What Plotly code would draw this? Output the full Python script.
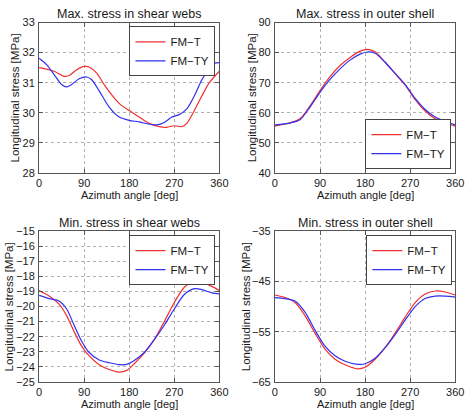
import plotly.graph_objects as go

# ---------------- data ----------------
# Max. stress in shear webs
sw_max_T_x = [0, 30, 50, 60, 75, 90, 100, 115, 130, 150, 165, 180, 200, 220, 240, 255, 270, 285, 295, 310, 325, 340, 360]
sw_max_T_y = [31.50, 31.38, 31.21, 31.24, 31.43, 31.54, 31.52, 31.32, 30.94, 30.50, 30.24, 30.08, 29.86, 29.65, 29.54, 29.52, 29.57, 29.54, 29.65, 30.08, 30.56, 31.00, 31.38]
sw_max_TY_x = [0, 15, 30, 45, 55, 65, 80, 95, 105, 120, 140, 160, 180, 200, 220, 235, 250, 265, 280, 295, 310, 325, 340, 350, 360]
sw_max_TY_y = [31.81, 31.60, 31.27, 30.94, 30.86, 30.94, 31.13, 31.19, 31.10, 30.73, 30.19, 29.86, 29.75, 29.70, 29.62, 29.60, 29.68, 29.86, 29.94, 30.13, 30.56, 31.10, 31.48, 31.65, 31.67]

# Max. stress in outer shell
os_max_x = [0, 30, 50, 70, 90, 110, 130, 150, 170, 185, 200, 220, 240, 260, 280, 300, 320, 340, 360]
os_max_T_y = [55.6, 56.7, 58.0, 62.3, 67.4, 72.0, 75.7, 78.4, 80.5, 81.1, 80.3, 76.8, 73.0, 69.2, 64.4, 60.6, 58.0, 56.7, 55.6]
os_max_TY_y = [56.0, 56.6, 57.7, 61.9, 66.8, 71.1, 74.6, 77.5, 79.5, 80.2, 79.8, 76.8, 73.1, 69.4, 64.8, 61.1, 58.6, 57.2, 56.0]

# Min. stress in shear webs
sw_min_x = [0, 20, 40, 55, 70, 85, 100, 120, 140, 160, 175, 190, 210, 230, 250, 270, 290, 310, 325, 345, 360]
sw_min_T_y = [-18.94, -19.30, -19.84, -20.60, -21.67, -22.63, -23.28, -23.86, -24.18, -24.35, -24.24, -23.80, -23.10, -22.20, -21.00, -19.73, -18.72, -18.33, -18.40, -18.66, -18.94]
sw_min_TY_y = [-19.26, -19.47, -19.63, -20.16, -21.24, -22.30, -23.05, -23.55, -23.73, -23.86, -23.84, -23.58, -23.05, -22.20, -21.24, -20.16, -19.20, -18.81, -18.87, -19.09, -19.15]

# Min. stress in outer shell
os_min_x = [0, 20, 40, 60, 80, 100, 120, 140, 165, 180, 200, 220, 240, 260, 280, 300, 320, 340, 360]
os_min_T_y = [-47.7, -48.2, -49.2, -51.8, -55.3, -58.5, -60.5, -61.6, -62.4, -62.1, -60.5, -58.2, -55.3, -52.1, -49.2, -47.5, -46.9, -47.1, -47.7]
os_min_TY_y = [-48.2, -48.4, -48.9, -51.1, -54.7, -57.9, -59.8, -60.9, -61.5, -61.4, -60.3, -58.2, -55.6, -52.7, -50.0, -48.4, -47.9, -47.9, -48.1]

x_ticks = [0, 90, 180, 270, 360]
titles = ["Max. stress in shear webs", "Max. stress in outer shell",
          "Min. stress in shear webs", "Min. stress in outer shell"]
series_names = ["FM\u2212T", "FM\u2212TY"]
y_ranges = [[28, 33], [40, 90], [-25, -15], [-65, -35]]
y_ticks = [[28, 29, 30, 31, 32, 33], [40, 50, 60, 70, 80, 90],
           list(range(-25, -14)), [-65, -55, -45, -35]]

RED = "#f03030"
BLUE = "#3030f0"
FONT = "Liberation Sans, Arial, sans-serif"
W, H = 474, 416

panels = [
    (sw_max_T_x, sw_max_T_y, sw_max_TY_x, sw_max_TY_y),
    (os_max_x, os_max_T_y, os_max_x, os_max_TY_y),
    (sw_min_x, sw_min_T_y, sw_min_x, sw_min_TY_y),
    (os_min_x, os_min_T_y, os_min_x, os_min_TY_y),
]

# pixel boxes (left, right, top, bottom)
boxes = [(37, 222, 17, 172), (279, 464, 17, 172), (37, 222, 232, 387), (279, 464, 232, 387)]
ytitle_x = [12, 255, 6, 249]
legend_pos = [  # (x px, y px, xanchor, yanchor)
    (218, 21, "right", "top"), (460, 168, "right", "bottom"),
    (218, 236, "right", "top"), (461, 236, "right", "top")]

fig = go.Figure()
layout = dict(width=W, height=H, margin=dict(l=0, r=0, t=0, b=0),
              paper_bgcolor="white", plot_bgcolor="white",
              font=dict(family=FONT, size=11, color="#1a1a1a"),
              annotations=[])

for i, (xt, yt, xty, yty) in enumerate(panels):
    n = "" if i == 0 else str(i + 1)
    leg = "legend" if i == 0 else f"legend{i + 1}"
    fig.add_trace(go.Scatter(x=xt, y=yt, name=series_names[0], mode="lines",
                             line=dict(color=RED, width=1.2, shape="spline", smoothing=0.8),
                             xaxis="x" + n, yaxis="y" + n, legend=leg))
    fig.add_trace(go.Scatter(x=xty, y=yty, name=series_names[1], mode="lines",
                             line=dict(color=BLUE, width=1.2, shape="spline", smoothing=0.8),
                             xaxis="x" + n, yaxis="y" + n, legend=leg))
    l, r, t, b = boxes[i]
    common = dict(showgrid=True, gridcolor="#b0b0b0", griddash="dot", gridwidth=1,
                  showline=True, linecolor="#555555", linewidth=1, mirror="allticks",
                  ticks="inside", ticklen=4, tickcolor="#555555", zeroline=False,
                  tickfont=dict(size=11, family=FONT, color="#1a1a1a"))
    layout["xaxis" + n] = dict(common, domain=[l / W, r / W], range=[0, 360],
                               tickvals=x_ticks, anchor="y" + n)
    layout["yaxis" + n] = dict(common, domain=[1 - b / H, 1 - t / H], range=y_ranges[i],
                               tickvals=y_ticks[i], anchor="x" + n, ticklabelstandoff=1)
    lx, ly, xa, ya = legend_pos[i]
    layout[leg] = dict(x=lx / W, y=1 - ly / H, xanchor=xa, yanchor=ya,
                       xref="paper", yref="paper",
                       bgcolor="white", bordercolor="#444444", borderwidth=1,
                       font=dict(size=11.5, family=FONT, color="#1a1a1a"),
                       tracegroupgap=0, itemwidth=30)
    # subplot title
    layout["annotations"].append(dict(text=titles[i], x=(l + r) / 2 / W, y=1 - (t - 9) / H,
                                      xref="paper", yref="paper", showarrow=False,
                                      xanchor="center", yanchor="middle",
                                      font=dict(size=12.5, family=FONT, color="#1a1a1a")))
    # x title
    layout["annotations"].append(dict(text="Azimuth angle [deg]", x=(l + r) / 2 / W,
                                      y=1 - (b + 23) / H, xref="paper", yref="paper",
                                      showarrow=False, xanchor="center", yanchor="middle",
                                      font=dict(size=11, family=FONT, color="#1a1a1a")))
    # y title
    layout["annotations"].append(dict(text="Longitudinal stress [MPa]", x=ytitle_x[i] / W,
                                      y=1 - (t + b) / 2 / H, xref="paper", yref="paper",
                                      showarrow=False, textangle=-90,
                                      xanchor="center", yanchor="middle",
                                      font=dict(size=11.5, family=FONT, color="#1a1a1a")))

fig.update_layout(**layout)
fig.write_html("out.html")
